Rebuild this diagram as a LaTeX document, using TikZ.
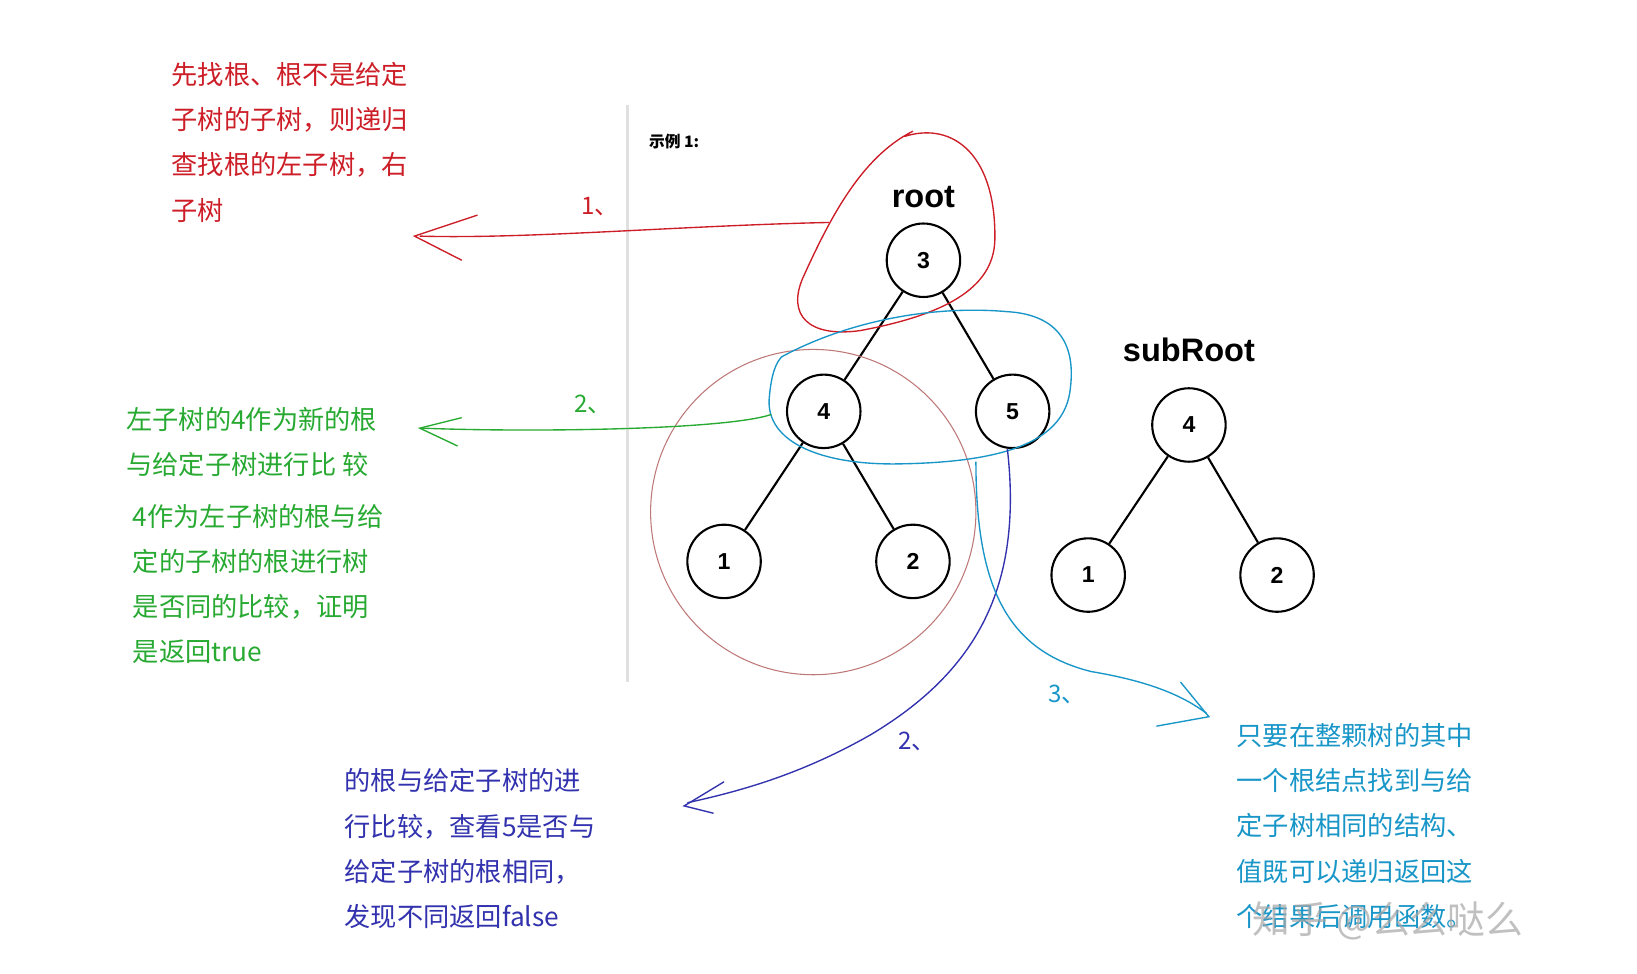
\documentclass[tikz,border=0pt]{standalone}
\usepackage{fontspec}
\setmainfont{Noto Sans CJK SC}
\newfontfamily\hv{Liberation Sans}
\begin{document}
\begin{tikzpicture}[x=1pt,y=-1pt,
  nd/.style={circle,draw,line width=2pt,minimum size=70pt,inner sep=0pt,font=\hv\bfseries\fontsize{22}{22}\selectfont},
  ed/.style={line width=2pt},
  tx/.style={anchor=north west,font=\fontsize{25}{43}\selectfont},
  lb/.style={font=\fontsize{23}{23}\selectfont},
  hand/.style={line width=1.3pt}]
\definecolor{rd}{RGB}{205,30,40}
\definecolor{gr}{RGB}{40,170,50}
\definecolor{db}{RGB}{50,50,175}
\definecolor{cy}{RGB}{25,150,200}
\definecolor{br}{RGB}{190,120,120}
\useasboundingbox (0,0) rectangle (1560,928);
\fill[white] (0,0) rectangle (1560,928);
\draw[line width=3pt,black!12] (598,100) -- (598,650);
\node[anchor=west,font=\bfseries\fontsize{15}{15}\selectfont] (ex) at (615,135) {示例 1:};
\node[font=\hv\bfseries\fontsize{31}{31}\selectfont] (lr) at (880,188) {root};
\node[font=\hv\bfseries\fontsize{31}{31}\selectfont] (ls) at (1133,333) {subRoot};
\node[nd] (a3) at (880,248) {3};
\node[nd] (a4) at (785,392) {4};
\node[nd] (a5) at (965,392) {5};
\node[nd] (a1) at (690,535) {1};
\node[nd] (a2) at (870,535) {2};
\node[nd] (b4) at (1133,405) {4};
\node[nd] (b1) at (1037,548) {1};
\node[nd] (b2) at (1217,548) {2};
\draw[ed] (a3)--(a4) (a3)--(a5) (a4)--(a1) (a4)--(a2) (b4)--(b1) (b4)--(b2);
\draw[br,line width=1pt] (775,488) circle (155);
% red loop and arrow
\draw[rd,hand] (862,130) .. controls (910,115) and (950,150) .. (948,230)
  .. controls (946,275) and (900,300) .. (820,315)
  .. controls (770,322) and (750,300) .. (765,265)
  .. controls (790,210) and (820,150) .. (870,125);
\coordinate (r0) at (790,212); \coordinate (r1) at (400,225);
\draw[rd,hand] (r0) .. controls (650,215) and (500,228) .. (r1);
\draw[rd,hand] (455,205) -- (395,225) -- (440,248);
\node[rd,lb] (n1) at (572,197) {1、};
% cyan loop
\draw[cy,hand] (745,340) .. controls (800,310) and (880,290) .. (960,297)
  .. controls (1010,300) and (1025,330) .. (1020,370)
  .. controls (1015,420) and (960,440) .. (860,442)
  .. controls (780,444) and (730,420) .. (733,380)
  .. controls (735,355) and (740,345) .. (745,340);
% green arrow
\coordinate (g0) at (735,395); \coordinate (g1) at (402,408);
\draw[gr,hand] (g0) .. controls (690,410) and (500,412) .. (g1);
\draw[gr,hand] (440,398) -- (400,408) -- (436,425);
\node[gr,lb] (n2) at (565,385) {2、};
% dark blue arrow
\coordinate (d0) at (960,428); \coordinate (d1) at (655,765);
\draw[db,hand] (d0) .. controls (975,560) and (930,640) .. (830,700) .. controls (760,740) and (700,755) .. (d1);
\draw[db,hand] (690,745) -- (652,768) -- (680,775);
\node[db,lb] (n3) at (874,707) {2、};
% cyan arrow
\coordinate (c0) at (930,440); \coordinate (c1) at (1150,680);
\draw[cy,hand] (c0) .. controls (930,560) and (960,620) .. (1040,640) .. controls (1100,650) and (1130,665) .. (c1);
\draw[cy,hand] (1125,650) -- (1152,683) -- (1102,692);
\node[cy,lb] (n4) at (1017,662) {3、};
% texts
\node[tx,rd,align=left] (t1) at (160,56) {先找根、根不是给定\\子树的子树，则递归\\查找根的左子树，右\\子树};
\node[tx,gr,align=left] (t2) at (117,385) {左子树的4作为新的根\\与给定子树进行比 较};
\node[tx,gr,align=left] (t3) at (123,477) {4作为左子树的根与给\\定的子树的根进行树\\是否同的比较，证明\\是返回true};
\node[tx,db,align=left] (t4) at (325,729) {的根与给定子树的进\\行比较，查看5是否与\\给定子树的根相同，\\发现不同返回false};
\node[tx,cy,align=left] (t5) at (1175,686) {只要在整颗树的其中\\一个根结点找到与给\\定子树相同的结构、\\值既可以递归返回这\\个结果后调用函数。};
\node[anchor=west,black!35,font=\fontsize{36}{36}\selectfont,opacity=0.7] (wm) at (1190,878) {知乎 @么么哒么};
\end{tikzpicture}
\end{document}
